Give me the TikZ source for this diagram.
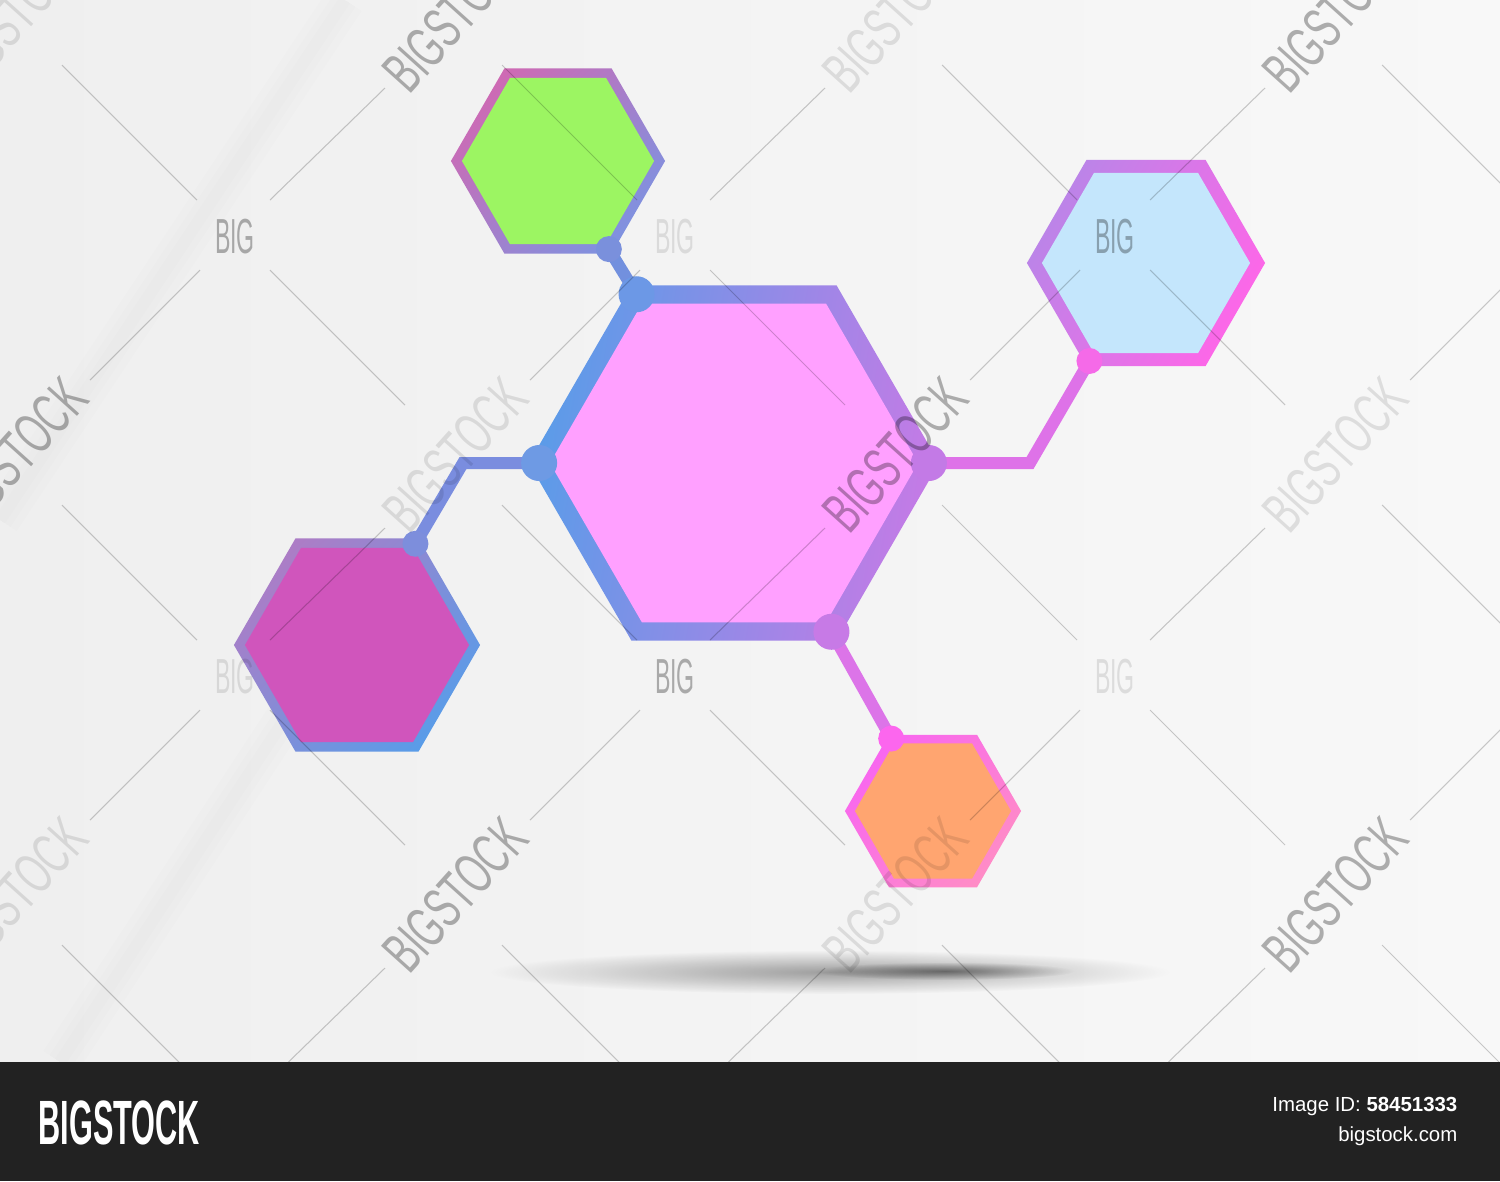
\documentclass[tikz,border=0pt]{standalone}
\usepackage{fontspec}
\setmainfont{Liberation Sans}
\usetikzlibrary{shapes.geometric,calc,fadings}

\definecolor{paperL}{HTML}{EFEFEF}
\definecolor{paperR}{HTML}{F8F8F8}
\definecolor{barbg}{HTML}{222222}
% faces
\definecolor{hubface}{HTML}{FFA0FF}
\definecolor{greenface}{HTML}{9CF562}
\definecolor{skyface}{HTML}{C4E6FC}
\definecolor{plumface}{HTML}{D055BC}
\definecolor{peachface}{HTML}{FFA570}
% rims
\definecolor{hubrimA}{HTML}{5A9CE8}
\definecolor{hubrimB}{HTML}{C67AE6}
\definecolor{greenrimA}{HTML}{CE6AB4}
\definecolor{greenrimB}{HTML}{7E92E0}
\definecolor{skyrimA}{HTML}{B985E8}
\definecolor{skyrimB}{HTML}{FF66E8}
\definecolor{plumrimA}{HTML}{AC7DC6}
\definecolor{plumrimB}{HTML}{5A9CE8}
\definecolor{peachrimA}{HTML}{F866F0}
\definecolor{peachrimB}{HTML}{FF8CC6}
% links and dots
\definecolor{linkN}{HTML}{7290DE}
\definecolor{linkW}{HTML}{7A8DDF}
\definecolor{linkE}{HTML}{DE72E8}
\definecolor{linkS}{HTML}{DC74E8}
\definecolor{dotNW}{HTML}{6C98E6}
\definecolor{dotW}{HTML}{6E9AE4}
\definecolor{dotE}{HTML}{C37AE6}
\definecolor{dotSE}{HTML}{C77AE6}
\definecolor{dotGreen}{HTML}{7A90DC}
\definecolor{dotSky}{HTML}{F56AE8}
\definecolor{dotPlum}{HTML}{7D8EDC}
\definecolor{dotPeach}{HTML}{FC66EE}

\tikzfading[name=softglow,inner color=transparent!0,outer color=transparent!100]

\begin{document}
\begin{tikzpicture}[x=0.01cm,y=-0.01cm,
    hexrim/.style={regular polygon,regular polygon sides=6,inner sep=0pt,outer sep=0pt},
    hexface/.style={regular polygon,regular polygon sides=6,inner sep=0pt,outer sep=0pt,fill=#1},
    link/.style={line width=0.12cm,draw=#1},
    bigdot/.style={circle,inner sep=0pt,minimum size=0.36cm,fill=#1},
    smalldot/.style={circle,inner sep=0pt,minimum size=0.26cm,fill=#1},
    wmbig/.style={text=black,inner sep=0pt,font=\fontsize{14}{14}\selectfont},
    wmstock/.style={text=black,inner sep=0pt,rotate=48,font=\fontsize{16.7}{16.7}\selectfont},
    wmline/.style={black,line width=0.3pt,opacity=0.2},
    streak/.style={black,line width=#1,opacity=0.006}]
  \useasboundingbox (0,0) rectangle (1500,1181);
  \clip (0,0) rectangle (1500,1181);

  % paper
  \shade[left color=paperL,right color=paperR] (0,0) rectangle (1500,1062);
  \foreach \w in {0.4cm,0.25cm,0.12cm}{
    \draw[streak=\w] (345,0) -- (0,520);
    \draw[streak=\w] (330,650) -- (60,1062);
  }
  \fill[black,opacity=0.35,path fading=softglow] (830,972) ellipse [x radius=340,y radius=22];
  \fill[black,opacity=0.45,path fading=softglow] (945,971) ellipse [x radius=130,y radius=9];

  % hexagons
  \node[hexrim,minimum size=4.1cm,top color=hubrimA,bottom color=hubrimB,shading angle=80] (hub) at (734,463) {};
  \node[hexface=hubface,minimum size=3.68cm] (hub-in) at (hub) {};
  \node[hexrim,minimum size=2.14cm,top color=greenrimA,bottom color=greenrimB,shading angle=45] (green) at (558,161) {};
  \node[hexface=greenface,minimum size=1.92cm] (green-in) at (green) {};
  \node[hexrim,minimum size=2.38cm,top color=skyrimA,bottom color=skyrimB,shading angle=60] (sky) at (1146,263) {};
  \node[hexface=skyface,minimum size=2.08cm] (sky-in) at (sky) {};
  \node[hexrim,minimum size=2.46cm,top color=plumrimA,bottom color=plumrimB,shading angle=45] (plum) at (357,645) {};
  \node[hexface=plumface,minimum size=2.24cm] (plum-in) at (plum) {};
  \node[hexrim,minimum size=1.76cm,top color=peachrimA,bottom color=peachrimB,shading angle=45] (peach) at (933,811) {};
  \node[hexface=peachface,minimum size=1.56cm] (peach-in) at (peach) {};

  % corners on the middle of the rims
  \coordinate (hub-nw) at ($(hub)!.95!(hub.120)$);
  \coordinate (hub-w) at ($(hub)!.95!(hub.180)$);
  \coordinate (hub-e) at ($(hub)!.95!(hub.0)$);
  \coordinate (hub-se) at ($(hub)!.95!(hub.-60)$);
  \coordinate (green-se) at ($(green)!.95!(green.-60)$);
  \coordinate (sky-sw) at ($(sky)!.95!(sky.240)$);
  \coordinate (plum-ne) at ($(plum)!.95!(plum.60)$);
  \coordinate (peach-nw) at ($(peach)!.95!(peach.120)$);
  \coordinate (bend-w) at (463,463);
  \coordinate (bend-e) at (1030,463);

  % links
  \draw[link=linkN] (green-se) -- (hub-nw);
  \draw[link=linkW] (hub-w) -- (bend-w) -- (plum-ne);
  \draw[link=linkE] (hub-e) -- (bend-e) -- (sky-sw);
  \draw[link=linkS] (hub-se) -- (peach-nw);

  \node[bigdot=dotNW] (dot-hub-nw) at (hub-nw) {};
  \node[bigdot=dotW] (dot-hub-w) at (hub-w) {};
  \node[bigdot=dotE] (dot-hub-e) at (hub-e) {};
  \node[bigdot=dotSE] (dot-hub-se) at (hub-se) {};
  \node[smalldot=dotGreen] (dot-green) at (green-se) {};
  \node[smalldot=dotSky] (dot-sky) at (sky-sw) {};
  \node[smalldot=dotPlum] (dot-plum) at (plum-ne) {};
  \node[smalldot=dotPeach] (dot-peach) at (peach-nw) {};

  % watermark
  \begin{scope}
    \clip (0,0) rectangle (1500,1062);
    \foreach \i in {0,...,3}{
      \foreach \j in {0,1,2}{
        \coordinate (wm-c) at ({235+440*\i},{237+440*\j});
        \draw[wmline] (wm-c) ++(-38,-37) -- ++(-135,-135)
                      (wm-c) ++(35,-37) -- ++(115,-112)
                      (wm-c) ++(-35,33) -- ++(-110,110)
                      (wm-c) ++(35,33) -- ++(135,135);
      }
    }
    \foreach \i in {0,1,2}{
      \foreach \j in {0,1}{
        \pgfmathsetmacro\wmop{mod(\i+\j,2)==0 ? 0.3 : 0.1}
        \node[wmbig,text opacity=\wmop] (wm-big-\i-\j) at ({235+440*\i},{237+440*\j}) {\scalebox{.47}[1]{BIG}};
      }
    }
    \foreach \i in {-1,0,1,2}{
      \foreach \j in {-1,0,1}{
        \pgfmathsetmacro\wmop{mod(\i+\j+4,2)==1 ? 0.3 : 0.1}
        \node[wmstock,text opacity=\wmop] (wm-stock-\i-\j) at ({455+440*\i},{455+440*\j}) {\scalebox{.6}[1]{BIGSTOCK}};
      }
    }
  \end{scope}

  % footer
  \fill[barbg] (0,1062) rectangle (1500,1181);
  \node[anchor=base west,inner sep=0pt,text=white,font=\bfseries\fontsize{17.8}{17.8}\selectfont] (brand) at (38,1144) {\scalebox{.49}[1]{BIGSTOCK}};
  \node[anchor=base east,inner sep=0pt,text=white,font=\fontsize{5.8}{5.8}\selectfont] (image-id) at (1458,1111) {Image ID: \textbf{58451333}};
  \node[anchor=base east,inner sep=0pt,text=white,font=\fontsize{5.8}{5.8}\selectfont] (site) at (1458,1141) {bigstock.com};
\end{tikzpicture}
\end{document}
